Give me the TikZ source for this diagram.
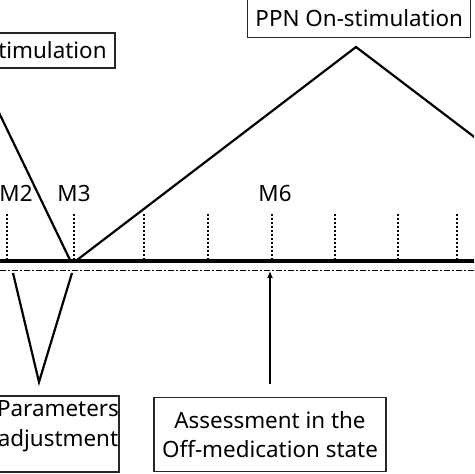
\documentclass[tikz,border=0pt]{standalone}
\usepackage{fontspec}
\setmainfont{Noto Sans}
\usetikzlibrary{arrows.meta}

\begin{document}
\begin{tikzpicture}[
    x=0.5pt, y=-0.5pt,
    mlabel/.style={font=\fontsize{11.2}{14.75}\selectfont, inner sep=0pt, anchor=base},
    box/.style={rectangle, draw=black!85, line width=0.7pt, fill=white, font=\fontsize{11.2}{14.75}\selectfont, align=center, inner sep=0pt},
    boxtext/.style={font=\fontsize{11.2}{14.75}\selectfont, align=center, inner sep=0pt},
    frame/.style={draw=black!85, line width=0.7pt},
    level/.style={line width=1.1pt},
    tick/.style={line width=1.2pt, dash pattern=on 1pt off 1pt},
    axis/.style={line width=2.1pt},
    base/.style={line width=0.5pt, dash pattern=on 3pt off 1.2pt on 0.6pt off 1.2pt},
    arrow/.style={-{Latex[length=3.5pt,width=3pt]}, line width=1.1pt}
  ]
    \useasboundingbox (0,0) rectangle (474,474);
    \clip (0,0) rectangle (474,474);

    % Stimulation boxes (top)
    \node[boxtext, anchor=base east] (stimL) at (107,59) {timulation};
    \draw[frame] (-10,33) -| (115,68) -- (-10,68);
    \node[box, minimum width=111.5pt, minimum height=19.5pt, anchor=south west] (stimR) at (247,38) {PPN On-stimulation};

    % Time axis and baseline
    \coordinate (ax0) at (-5,261);
    \coordinate (ax1) at (480,261);
    \coordinate (bl0) at (0,271);
    \coordinate (bl1) at (474,271);
    \draw[axis] (ax0) -- (ax1);
    \draw[base] (bl0) -- (bl1);

    % Monthly ticks
    \foreach \x in {7,74,144,208,272,335,398,457}
      \draw[tick] (\x,214) -- (\x,259);

    \node[mlabel] (m2) at (16,202) {M2};
    \node[mlabel] (m3) at (74,202) {M3};
    \node[mlabel] (m6) at (275,202) {M6};

    % Stimulation levels
    \coordinate (s0) at (-10,94);
    \coordinate (off1) at (70,260);
    \coordinate (on1) at (77,260);
    \coordinate (peak) at (356,47);
    \coordinate (s1) at (494,152);
    \draw[level] (s0) -- (off1);
    \draw[level, line join=miter] (on1) -- (peak) -- (s1);

    % Parameters adjustment
    \coordinate (v1) at (13,273);
    \coordinate (v2) at (39,382);
    \coordinate (v3) at (72,273);
    \draw[level, line join=miter] (v1) -- (v2) -- (v3);

    % Bottom boxes
    \node[boxtext] (adjust) at (58,426) {Parameters\\adjustment};
    \draw[frame] (-10,396) -| (119,472) -- (-10,472);
    \node[box, minimum width=116pt, minimum height=37pt, anchor=north] (assess) at (270,397) {Assessment in the\\Off-medication state};

    \coordinate (a0) at (270,384);
    \coordinate (a1) at (270,271);
    \draw[arrow] (a0) -- (a1);
  \end{tikzpicture}
\end{document}
